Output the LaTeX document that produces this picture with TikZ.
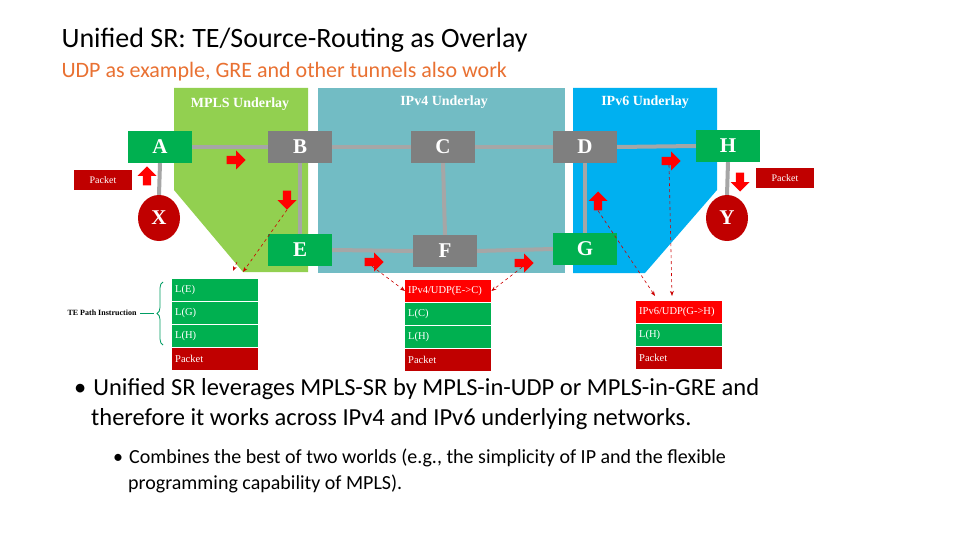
\documentclass[tikz,border=0pt]{standalone}
\usepackage{fontspec}
\setmainfont{Liberation Serif}
\newfontfamily\calfont{Carlito}
\usetikzlibrary{shapes.arrows,shapes.geometric,decorations.pathreplacing,arrows.meta}
\definecolor{mgreen}{HTML}{92D050}
\definecolor{teal4}{HTML}{72BCC4}
\definecolor{blue6}{HTML}{00B0F0}
\definecolor{ngreen}{HTML}{00B050}
\definecolor{ngray}{HTML}{7F7F7F}
\definecolor{dred}{HTML}{C00000}
\definecolor{lgray}{HTML}{A6A6A6}
\definecolor{orng}{HTML}{E97132}
\begin{document}
\begin{tikzpicture}[x=1pt,y=-1pt,
  box/.style={draw=none,minimum width=64pt,minimum height=32pt,inner sep=0pt,text=white,font=\bfseries\fontsize{21}{21}\selectfont},
  gbox/.style={box,fill=ngreen},
  ybox/.style={box,fill=ngray},
  pkt/.style={fill=dred,text=white,minimum width=58pt,minimum height=20pt,inner sep=0pt,font=\fontsize{10}{10}\selectfont},
  st/.style={minimum width=86pt,minimum height=21.5pt,inner sep=0pt,text=white,anchor=west,text width=80pt,align=left,font=\fontsize{10.5}{11}\selectfont},
  link/.style={lgray,line width=4pt},
  rarr/.style={single arrow,fill=red,draw=none,minimum height=19pt,minimum width=19pt,single arrow head extend=3pt,inner sep=2pt},
  dsh/.style={red!80!black,dashed,line width=0.6pt,-{Stealth[length=5pt]}},
  ut/.style={text=white,font=\bfseries\fontsize{14}{14}\selectfont}]
\useasboundingbox (0,0) rectangle (960,540);
\fill[white] (0,0) rectangle (960,540);
% titles
\node[anchor=west,font=\calfont\fontsize{28}{28}\selectfont] (title) at (58,40) {Unified SR: TE/Source-Routing as Overlay};
\node[anchor=west,text=orng,font=\calfont\fontsize{22}{22}\selectfont] (sub) at (58,72) {UDP as example, GRE and other tunnels also work};
% underlays
\fill[mgreen] (174,88) -- (308,88) -- (308,272) -- (243,272) -- (174,190) -- cycle;
\fill[teal4] (318,88) rectangle (565,273);
\fill[blue6] (573,88) -- (717,88) -- (717,190) -- (645,273) -- (573,273) -- cycle;
\node[ut] (mu) at (240,104) {MPLS Underlay};
\node[ut] (iu) at (444,102) {IPv4 Underlay};
\node[ut] (su) at (645,102) {IPv6 Underlay};
% links
\coordinate (pA) at (160,147);
\coordinate (pB) at (300,147);
\coordinate (pC) at (443,147);
\coordinate (pD) at (585,147);
% nodes
\node[gbox] (A) at (160,147) {A};
\node[ybox] (B) at (300,147) {B};
\node[ybox] (C) at (443,147) {C};
\node[ybox] (D) at (585,147) {D};
\node[gbox] (H) at (728,146) {H};
\node[gbox] (E) at (300,250) {E};
\node[ybox] (F) at (445,251) {F};
\node[gbox] (G) at (585,249) {G};
\node[ellipse,fill=dred,minimum width=42pt,minimum height=46pt,inner sep=0pt,text=white,font=\bfseries\fontsize{21}{21}\selectfont] (X) at (159,218) {X};
\node[ellipse,fill=dred,minimum width=42pt,minimum height=46pt,inner sep=0pt,text=white,font=\bfseries\fontsize{21}{21}\selectfont] (Y) at (727,218) {Y};
\draw[link] (A.east) -- (B.west);
\draw[link] (B.east) -- (C.west);
\draw[link] (C.east) -- (D.west);
\draw[link] (D.east) -- (H.west);
\draw[link] (B.south) -- (E.north);
\draw[link] (C.south) -- (F.north);
\draw[link] (D.south) -- (G.north);
\draw[link] (E.east) -- (F.west);
\draw[link] (F.east) -- (G.west);
\draw[link] (A.south) -- (X.north);
\draw[link] (H.south) -- (Y.north);
% packets
\node[pkt] (p1) at (103,180) {Packet};
\node[pkt] (p2) at (785,178) {Packet};
% red block arrows
\node[rarr] (r1) at (234,160) {};
\node[rarr,rotate=-90] (r2) at (287,198) {};
\node[rarr,rotate=90] (r3) at (147,178) {};
\node[rarr] (r4) at (372,262) {};
\node[rarr] (r5) at (522,263) {};
\node[rarr,rotate=90] (r6) at (598,203) {};
\node[rarr] (r7) at (669,161) {};
\node[rarr,rotate=-90] (r8) at (740,180) {};
% stacks
\node[st,fill=ngreen] (s1) at (172,290) {L(E)};
\node[st,fill=ngreen] (s2) at (172,313) {L(G)};
\node[st,fill=ngreen] (s3) at (172,336) {L(H)};
\node[st,fill=dred] (s4) at (172,359) {Packet};
\node[st,fill=red] (m1) at (405,291) {IPv4/UDP(E->C)};
\node[st,fill=ngreen] (m2) at (405,314) {L(C)};
\node[st,fill=ngreen] (m3) at (405,337) {L(H)};
\node[st,fill=dred] (m4) at (405,360) {Packet};
\node[st,fill=red] (n1) at (636,312) {IPv6/UDP(G->H)};
\node[st,fill=ngreen] (n2) at (636,335) {L(H)};
\node[st,fill=dred] (n3) at (636,358) {Packet};
\draw[ngreen!60!teal,line width=0.8pt,decorate,decoration={brace,amplitude=6pt}] (163,345) -- (163,282);
\node[anchor=east,font=\bfseries\fontsize{8}{8}\selectfont] (te) at (140,313) {TE Path Instruction};
\draw[ngreen!60!teal,line width=0.6pt] (te.east) -- (154,313);
% dashed pointers
\coordinate (c1) at (237,262);
\coordinate (c2) at (233,271);
\draw[dsh] (r2.east) -- (243,272);
\draw[dsh] (c1) -- (c2);
\draw[dsh] (r4.south) -- (m1.west);
\draw[dsh] (r5.south) -- (m1.east);
\draw[dsh] (r6.west) -- (655,296);
\draw[dsh] (r7.south) -- (672,296);
% bullets
\node[anchor=north west,inner sep=0pt,font=\calfont\fontsize{24.5}{30}\selectfont,align=left] (b1) at (74,378) {\textbullet\hspace{7pt}Unified SR leverages MPLS-SR by MPLS-in-UDP or MPLS-in-GRE and\\\hspace{17pt}therefore it works across IPv4 and IPv6 underlying networks.};
\node[anchor=north west,inner sep=0pt,font=\calfont\fontsize{20}{26}\selectfont,align=left] (b2) at (113,449) {\textbullet\hspace{6pt}Combines the best of two worlds (e.g., the simplicity of IP and the flexible\\\hspace{15pt}programming capability of MPLS).};
\end{tikzpicture}
\end{document}
